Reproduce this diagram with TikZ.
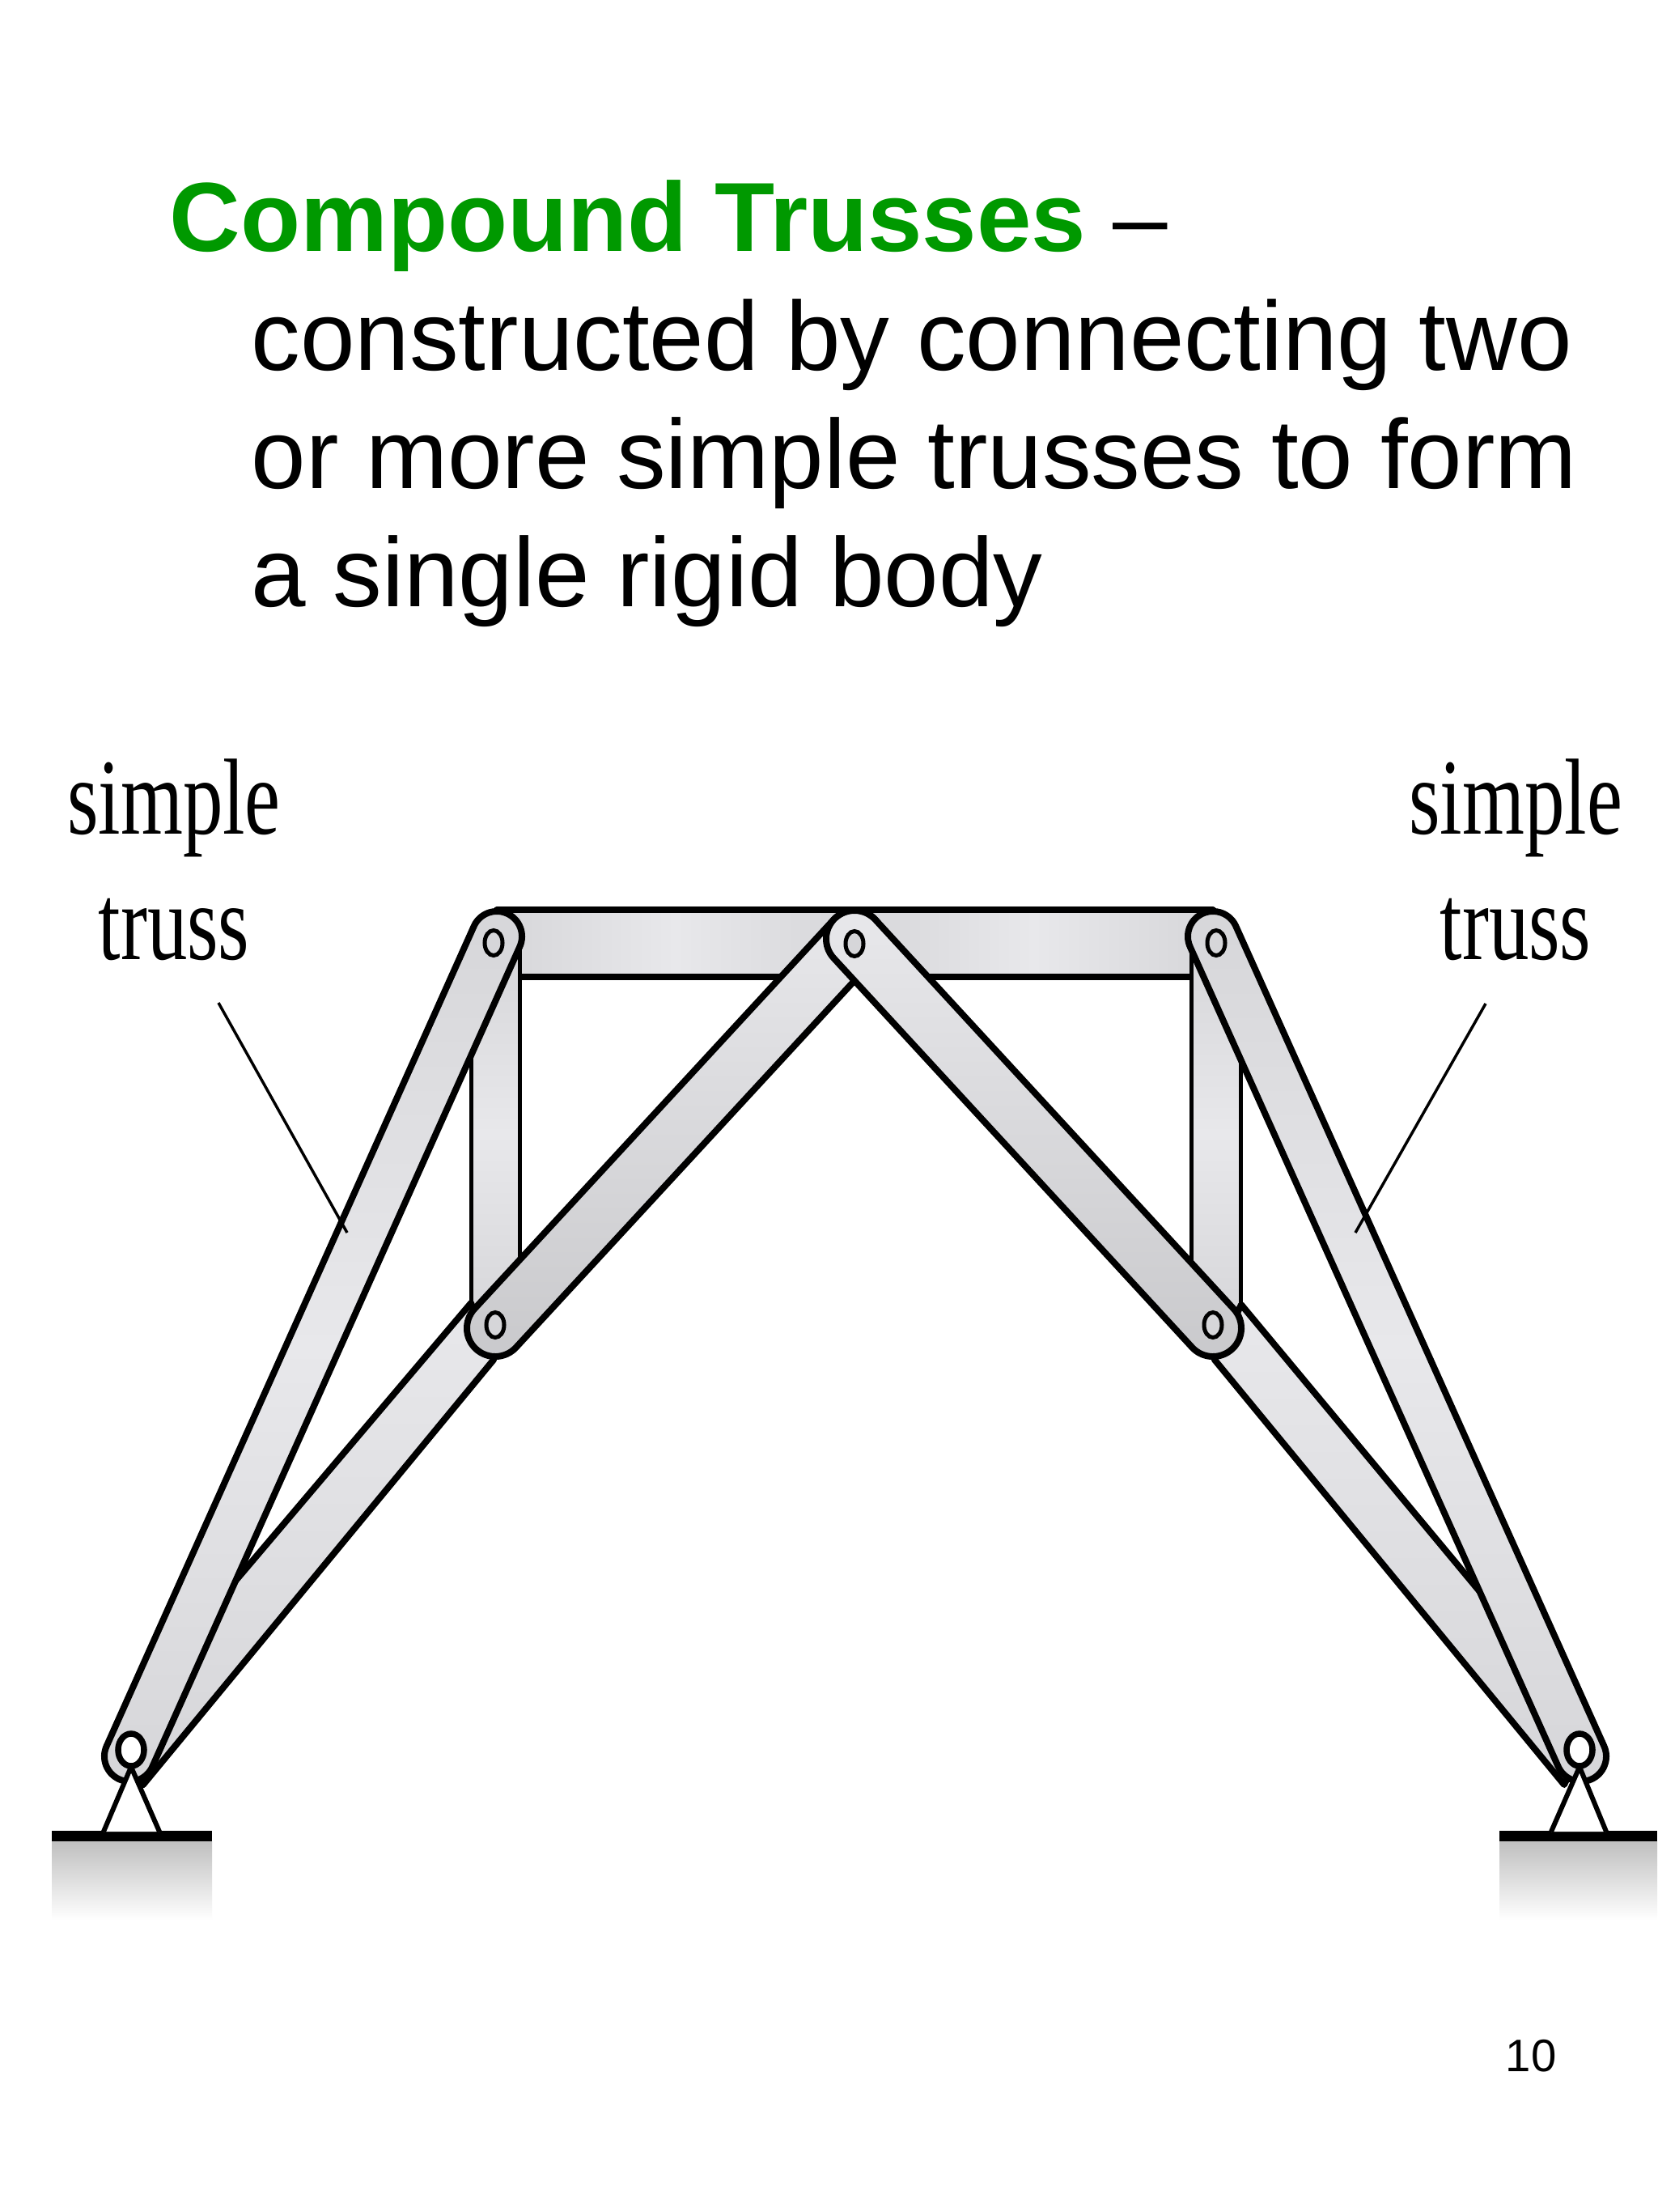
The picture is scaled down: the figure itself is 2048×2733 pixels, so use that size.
\documentclass[tikz,border=0pt]{standalone}
\usepackage{fontspec}
\setmainfont{Liberation Sans}
\newfontfamily\labelfont{Liberation Serif}
\usetikzlibrary{positioning}
\usetikzlibrary{calc}
\usetikzlibrary{shapes.geometric}

\definecolor{titlegreen}{RGB}{0,153,0}
\definecolor{barend}{RGB}{214,214,217}
\definecolor{barmid}{RGB}{232,232,235}

\tikzset{
  barline/.style={draw=black, line width=0.08cm, line join=round},
  longbar/.style={top color=barend, bottom color=barend, middle color=barmid},
  webbar/.style={top color=barmid, bottom color=barend},
  chordbar/.style={left color=barend, right color=barend, middle color=barmid},
  headline/.style={anchor=base west, inner sep=0, font=\fontsize{34.5}{40}\selectfont},
  trusslabel/.style={anchor=base, inner sep=0, font=\labelfont\fontsize{38}{42}\selectfont},
  leader/.style={draw=black, line width=0.035cm},
  pin/.style={ellipse, draw=black, line width=0.05cm, fill=barend, inner sep=0,
    minimum width=0.22cm, minimum height=0.31cm},
  basepin/.style={ellipse, draw=black, line width=0.075cm, fill=white, inner sep=0,
    minimum width=0.32cm, minimum height=0.4cm},
  support/.style={draw=black, line width=0.06cm, fill=white, line join=round},
}

\begin{document}
\begin{tikzpicture}[x=0.01cm, y=-0.01cm]

\fill[white] (0,0) rectangle (2048,2733);
\useasboundingbox (0,0) rectangle (2048,2733);

\def\barrad{0.31cm}
\def\webrad{0.35cm}
\def\trussbar#1#2#3#4{
\draw[barline, #4] let \p1=($(#2)-(#1)$), \n1={atan2(\y1,\x1)} in
  ($(#1)!#3!90:(#2)$) arc[start angle=\n1+90, delta angle=180, radius=#3]
  -- ($(#2)!#3!90:(#1)$) arc[start angle=\n1-90, delta angle=180, radius=#3] -- cycle;
}

% pin positions
\coordinate (lefttop) at (610,1165);
\coordinate (apex) at (1056,1166);
\coordinate (righttop) at (1503,1165);
\coordinate (leftmid) at (612,1637);
\coordinate (rightmid) at (1499,1637);
\coordinate (leftbase) at (162,2162);
\coordinate (rightbase) at (1952,2162);

% bar ends sit a little past the pins
\coordinate (lefttopend) at (614,1157);
\coordinate (apexend) at (1056,1160);
\coordinate (righttopend) at (1499,1157);
\coordinate (leftmidend) at (612,1641);
\coordinate (rightmidend) at (1499,1641);
\coordinate (leftbaseend) at (160,2170);
\coordinate (rightbaseend) at (1954,2170);

% title
\node[headline] (title) at (209,310) {\textbf{\textcolor{titlegreen}{Compound Trusses}} --};
\node[headline] (lineone) at (310,457) {constructed by connecting two};
\node[headline] (linetwo) at (310,603) {or more simple trusses to form};
\node[headline] (linethree) at (310,749) {a single rigid body};

% ground
\fill[top color=black!25, bottom color=white] (64,2275) rectangle (262,2372);
\fill[top color=black!25, bottom color=white] (1853,2275) rectangle (2048,2372);
\fill[black] (64,2262) rectangle (262,2275);
\fill[black] (1853,2262) rectangle (2048,2275);

% top chord and verticals
\draw[barline, chordbar] (614,1124) rectangle (1056,1207);
\draw[barline, chordbar] (1056,1124) rectangle (1499,1207);
\draw[barline, line width=0.05cm, longbar] (582,1165) rectangle (642,1637);
\draw[barline, line width=0.05cm, longbar] (1472,1165) rectangle (1533,1637);

% lower members
\draw[barline, webbar] (582,1610) -- (270,1978) -- (170,2180) -- (177,2205) -- (610,1680) -- cycle;
\draw[barline, webbar] (1534,1612) -- (1840,1980) -- (1945,2180) -- (1933,2205) -- (1501,1680) -- cycle;

\trussbar{leftmidend}{apexend}{\webrad}{top color=barmid, bottom color=barend!94!black}
\trussbar{leftbaseend}{lefttopend}{\barrad}{longbar}
\trussbar{rightbaseend}{righttopend}{\barrad}{longbar}
\trussbar{apexend}{rightmidend}{\webrad}{top color=barmid, bottom color=barend!94!black}

% pins
\node[pin] (pinlefttop) at (lefttop) {};
\node[pin] (pinapex) at (apex) {};
\node[pin] (pinrighttop) at (righttop) {};
\node[pin] (pinleftmid) at (leftmid) {};
\node[pin] (pinrightmid) at (rightmid) {};

% supports
\draw[support] (128,2263) -- (162,2183) -- (197,2263);
\draw[support] (1917,2263) -- (1952,2183) -- (1985,2263);
\node[basepin] (pinleftbase) at (leftbase) {};
\node[basepin] (pinrightbase) at (rightbase) {};

% labels
\node[trusslabel] (simpleleft) at (215,1030) {\scalebox{0.74}[1]{simple}};
\node[trusslabel] (trussleft) at (215,1185) {\scalebox{0.74}[1]{truss}};
\node[trusslabel] (simpleright) at (1873,1030) {\scalebox{0.74}[1]{simple}};
\node[trusslabel] (trussright) at (1873,1185) {\scalebox{0.74}[1]{truss}};

\coordinate (leaderleft) at (270,1239);
\coordinate (leaderright) at (1836,1240);
\coordinate (barleft) at (429,1523);
\coordinate (barright) at (1675,1523);
\draw[leader] (leaderleft) -- (barleft);
\draw[leader] (leaderright) -- (barright);

\node[anchor=base, inner sep=0, font=\fontsize{16}{18}\selectfont] (pagenum) at (1892,2559) {10};

\end{tikzpicture}
\end{document}
